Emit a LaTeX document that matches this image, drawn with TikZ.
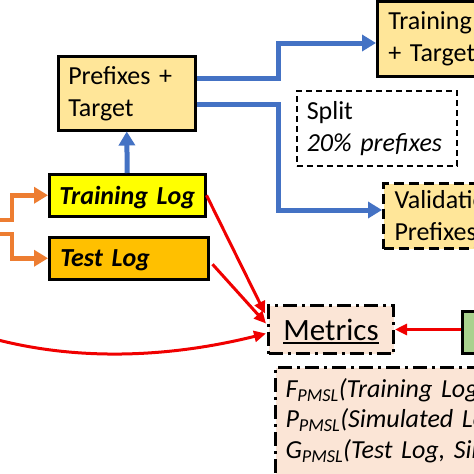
\documentclass[tikz,border=0pt]{standalone}
\usepackage{fontspec}
\setmainfont{Carlito}
\usetikzlibrary{arrows.meta,calc}
\definecolor{cblue}{HTML}{4472C4}
\definecolor{corange}{HTML}{ED7D31}
\definecolor{cred}{HTML}{F00000}
\definecolor{cpref}{HTML}{FFE699}
\definecolor{cyel}{HTML}{FFFF00}
\definecolor{cgold}{HTML}{FFC000}
\definecolor{cpink}{HTML}{FBE5D6}
\definecolor{cgreen}{HTML}{A9D18E}
\newcommand\mytul[1]{\setbox0\hbox{#1}\rlap{\rule[-4pt]{\wd0}{1.8pt}}\box0}
\tikzset{
 box/.style={draw=black, line width=2.5pt, anchor=north west, inner ysep=0pt, inner xsep=10pt, align=left},
 fA/.style={font=\fontsize{26pt}{32pt}\selectfont},
 bluearr/.style={draw=cblue, line width=5pt, -{Triangle[length=14pt,width=16pt]}},
 orarr/.style={draw=corange, line width=4.5pt, -{Triangle[length=14pt,width=16pt]}},
 redarr/.style={draw=cred, line width=3pt, -{Triangle[length=12pt,width=11pt]}},
 dashdot3/.style={dash pattern=on 14pt off 5pt on 3pt off 5pt},
}
\begin{document}
\begin{tikzpicture}[x=1pt,y=-1pt]
\useasboundingbox (0,0) rectangle (474,474);
\clip (0,0) rectangle (474,474);
\fill[white] (0,0) rectangle (474,474);

\node[box, fA, fill=cpref, minimum width=137pt, minimum height=74pt, text width=117pt] (prefixes) at (57,55) {\mbox{Prefixes +}\\Target};
\node[box, fA, fill=cyel, minimum width=156pt, minimum height=42pt, text width=136pt, text depth=0pt, font=\fontsize{26pt}{32pt}\selectfont\bfseries\itshape] (trainlog) at (48,173) {Training Log};
\node[box, fA, fill=cgold, minimum width=157pt, minimum height=42pt, text width=137pt, text depth=0pt, inner xsep=11pt, font=\fontsize{26pt}{32pt}\selectfont\bfseries\itshape] (testlog) at (48,236) {Test Log};
\node[box, fA, fill=cpref, minimum width=130pt, minimum height=75pt, text width=108pt, inner xsep=11pt] (tt) at (376,0) {Training\\+ Target};
\node[box, fA, fill=white, line width=1.5pt, dash pattern=on 6pt off 4pt, minimum width=160pt, minimum height=75pt, text width=140pt] (split) at (296,90) {Split\\\textit{20\% prefixes}};
\node[box, fA, fill=cpref, line width=3pt, dash pattern=on 10pt off 5pt, minimum width=120pt, minimum height=65pt, text width=98pt, inner xsep=11pt] (val) at (382,182) {Validation\\Prefixes};
\node[box, fill=cpink, line width=3pt, dashdot3, minimum width=125pt, minimum height=48pt, text width=105pt, align=center, text depth=0pt, font=\fontsize{31pt}{36pt}\selectfont] (metrics) at (267,304) {\mytul{Metrics}};
\node[box, fill=cgreen, minimum width=40pt, minimum height=42pt] (green) at (461,310) {};
\node[box, fill=cpink, line width=3pt, dashdot3, text width=300pt, inner ysep=11pt, font=\fontsize{26pt}{30.5pt}\selectfont\itshape] (formula) at (274,366) {F\textsubscript{PMSL}(Training Log\\P\textsubscript{PMSL}(Simulated Log\\G\textsubscript{PMSL}(Test Log, Simulated\\\mbox{}};

% blue connectors
\draw[bluearr] (trainlog.north) -- (prefixes.south);
\draw[bluearr] ($(prefixes.north east)+(0,23)$) -- ++(82,0) |- ($(tt.north west)+(0,43)$);
\draw[bluearr] ($(prefixes.north east)+(0,49)$) -- ++(82,0) |- ($(val.north west)+(0,28)$);

% orange connectors
\coordinate (o1) at (-5,220);
\coordinate (o2) at (-5,234);
\draw[orarr] (o1) -- ++(17,0) |- (trainlog.west);
\draw[orarr] (o2) -- ++(17,0) |- (testlog.west);

% red connectors
\draw[redarr] (trainlog.east) -- ($(metrics.west)+(-2,-16)$);
\draw[redarr] ($(testlog.east)+(3,6)$) -- ($(metrics.west)+(-1,-6)$);
\coordinate (c0) at (-20,335);
\draw[redarr] (c0) .. controls (80,365) and (180,355) .. ($(metrics.west)+(-1,4)$);
\draw[redarr] (green.west |- metrics.east) -- (metrics.east);
\end{tikzpicture}
\end{document}
